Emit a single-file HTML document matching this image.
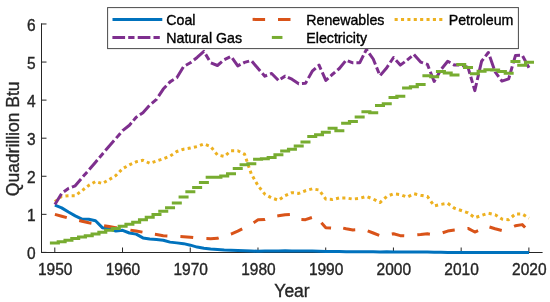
<!DOCTYPE html>
<html><head><meta charset="utf-8"><style>
html,body{margin:0;padding:0;background:#fff;width:550px;height:302px;overflow:hidden;}
svg{display:block;will-change:transform;}
text{font-family:"Liberation Sans",sans-serif;fill:#262626;stroke:#262626;stroke-width:0.35px;}
.lg text{fill:#000;stroke:#000;}
</style></head><body>
<svg width="550" height="302" viewBox="0 0 550 302">
<rect width="550" height="302" fill="#fff"/>
<g stroke="#262626" stroke-width="1" fill="none">
<path d="M41.5 23.5V252.5H542.6"/>
<path d="M41.0 252.40h5.5"/>
<path d="M41.0 214.33h5.5"/>
<path d="M41.0 176.26h5.5"/>
<path d="M41.0 138.19h5.5"/>
<path d="M41.0 100.12h5.5"/>
<path d="M41.0 62.05h5.5"/>
<path d="M41.0 23.98h5.5"/>
<path d="M54.80 253.0v-5.5"/>
<path d="M122.53 253.0v-5.5"/>
<path d="M190.25 253.0v-5.5"/>
<path d="M257.98 253.0v-5.5"/>
<path d="M325.71 253.0v-5.5"/>
<path d="M393.43 253.0v-5.5"/>
<path d="M461.16 253.0v-5.5"/>
<path d="M528.89 253.0v-5.5"/>
</g>
<g fill="none" stroke-width="3" stroke-linejoin="round">
<polyline points="54.90,205.19 61.67,207.86 68.45,212.05 75.22,215.85 81.99,219.09 88.76,219.28 95.54,220.80 102.31,227.65 109.08,228.80 115.85,231.08 122.63,230.32 129.40,232.98 136.17,234.13 142.95,237.93 149.72,239.08 156.49,239.46 163.26,240.22 170.04,242.12 176.81,242.88 183.58,243.64 190.35,245.17 197.13,247.07 203.90,248.21 210.67,248.97 217.44,249.54 224.22,250.00 230.99,250.19 237.76,250.42 244.54,250.65 251.31,250.92 258.08,251.22 264.85,251.03 271.63,250.92 278.40,250.88 285.17,250.76 291.94,250.92 298.72,250.99 305.49,251.07 312.26,251.11 319.04,251.30 325.81,251.45 332.58,251.49 339.35,251.49 346.13,251.64 352.90,251.71 359.67,251.75 366.44,251.75 373.22,251.79 379.99,251.94 386.76,251.87 393.53,251.98 400.31,251.94 407.08,251.94 413.85,251.94 420.63,251.98 427.40,252.10 434.17,252.17 440.94,252.13 447.72,252.40 454.49,252.40 461.26,252.40 468.03,252.40 474.81,252.40 481.58,252.40 488.35,252.40 495.13,252.40 501.90,252.40 508.67,252.40 515.44,252.40 522.22,252.40 528.99,252.40" stroke="#0072BD"/>
<polyline points="54.90,214.33 61.67,216.23 68.45,218.14 75.22,219.66 81.99,221.18 88.76,222.71 95.54,223.85 102.31,225.37 109.08,226.51 115.85,227.65 122.63,228.42 129.40,229.94 136.17,231.08 142.95,232.22 149.72,233.75 156.49,234.51 163.26,235.65 170.04,236.03 176.81,236.41 183.58,236.79 190.35,237.17 197.13,237.93 203.90,238.50 210.67,238.69 217.44,238.31 224.22,236.03 230.99,234.13 237.76,231.08 244.54,227.65 251.31,224.23 258.08,219.85 264.85,219.47 271.63,216.99 278.40,215.85 285.17,214.71 291.94,214.33 298.72,219.28 305.49,219.66 312.26,217.38 319.04,220.04 325.81,227.65 332.58,228.04 339.35,227.27 346.13,228.80 352.90,229.94 359.67,229.56 366.44,230.32 373.22,232.98 379.99,235.65 386.76,234.89 393.53,233.75 400.31,235.65 407.08,236.03 413.85,235.08 420.63,234.51 427.40,233.75 434.17,234.89 440.94,233.37 447.72,231.08 454.49,229.94 461.26,229.18 468.03,228.42 474.81,232.03 481.58,229.18 488.35,226.70 495.13,228.80 501.90,230.51 508.67,228.80 515.44,225.75 522.22,224.61 528.99,231.46" stroke="#D95319" stroke-dasharray="12.35 12.74 12.51 12.91 13.14 13.56 12.24 12.64 12.61 13.02 12.84 13.25 12.38 12.77 12.51 12.91 12.34 12.74 12.72 13.12 10.87 11.21 11.90 12.28 12.21 12.60 12.37 12.76 12.73 13.14 12.70 13.11 12.43 12.83 11.80 12.18 12.70 13.11 12.50 12.90 12.50 12.90" stroke-dashoffset="-0.00"/>
<polyline points="54.90,201.77 61.67,196.44 68.45,195.68 75.22,195.68 81.99,190.73 88.76,185.40 95.54,181.59 102.31,183.49 109.08,179.69 115.85,175.50 122.63,168.65 129.40,164.84 136.17,161.79 142.95,160.27 149.72,163.32 156.49,161.03 163.26,158.75 170.04,156.08 176.81,151.51 183.58,149.23 190.35,148.09 197.13,146.57 203.90,143.90 210.67,146.57 217.44,154.94 224.22,156.46 230.99,150.75 237.76,150.75 244.54,154.18 251.31,173.98 258.08,185.78 264.85,194.15 271.63,197.96 278.40,200.24 285.17,195.68 291.94,192.63 298.72,193.39 305.49,190.73 312.26,188.82 319.04,189.97 325.81,199.10 332.58,199.48 339.35,197.96 346.13,197.96 352.90,199.10 359.67,198.34 366.44,196.44 373.22,199.10 379.99,202.53 386.76,196.44 393.53,193.77 400.31,194.53 407.08,197.20 413.85,193.77 420.63,195.30 427.40,196.44 434.17,205.95 440.94,204.43 447.72,203.29 454.49,208.24 461.26,210.52 468.03,212.81 474.81,217.76 481.58,215.47 488.35,213.19 495.13,214.71 501.90,219.09 508.67,219.66 515.44,213.95 522.22,213.95 528.99,218.14" stroke="#EDB120" stroke-dasharray="3.02 3.20 3.02 3.20 3.02 3.20 3.02 3.20 3.02 3.20 3.02 3.20 3.02 3.20 3.02 3.20 3.02 3.20 3.02 3.20 3.02 3.20 3.02 3.20 3.02 3.20 3.02 3.20 3.02 3.20 3.02 3.20 3.02 3.20 3.02 3.20 3.02 3.20 3.09 3.27 3.09 3.27 3.09 3.27 3.09 3.27 3.09 3.27 3.09 3.27 3.09 3.27 3.09 3.27 3.09 3.27 3.09 3.27 3.09 3.27 3.09 3.27 3.09 3.27 3.09 3.27 3.09 3.27 3.09 3.27 3.09 3.27 3.09 3.27 3.09 3.27 3.09 3.27 3.09 3.27 3.09 3.27 3.09 3.27 3.09 3.27 3.09 3.27 3.09 3.27 3.09 3.27 3.09 3.27 3.09 3.27 3.08 3.26 3.08 3.26 3.08 3.26 3.08 3.26 3.08 3.26 3.08 3.26 3.08 3.26 3.08 3.26 3.08 3.26 3.16 3.35 3.16 3.35 3.16 3.35 3.16 3.35 3.16 3.35 3.16 3.35 3.16 3.35 3.16 3.35 3.16 3.35 3.16 3.35 3.16 3.35 3.16 3.35 3.16 3.35 3.16 3.35 3.16 3.35 3.16 3.35 3.16 3.35 3.16 3.35 3.16 3.35 3.16 3.35 3.16 3.35 3.16 3.35 3.16 3.35 3.16 3.35 3.10 3.28 3.10 3.28 3.10 3.28 3.10 3.28 3.10 3.28 3.10 3.28 3.10 3.28 3.10 3.28" stroke-dashoffset="-0.00"/>
<polyline points="54.90,204.43 61.67,193.39 68.45,188.44 75.22,185.78 81.99,177.78 88.76,170.17 95.54,162.17 102.31,154.18 109.08,146.18 115.85,138.57 122.63,130.58 129.40,125.25 136.17,117.25 142.95,112.68 149.72,105.07 156.49,99.36 163.26,89.08 170.04,81.85 176.81,77.66 183.58,66.62 190.35,62.81 197.13,57.48 203.90,51.39 210.67,62.81 217.44,65.48 224.22,59.77 230.99,56.34 237.76,65.86 244.54,62.43 251.31,60.53 258.08,68.52 264.85,76.14 271.63,73.47 278.40,80.32 285.17,76.14 291.94,79.18 298.72,83.75 305.49,83.37 312.26,71.19 319.04,65.10 325.81,80.32 332.58,74.23 339.35,68.52 346.13,60.15 352.90,62.81 359.67,62.81 366.44,49.49 373.22,59.00 379.99,75.76 386.76,67.76 393.53,57.48 400.31,65.10 407.08,60.15 413.85,54.44 420.63,62.05 427.40,64.33 434.17,81.47 440.94,69.66 447.72,61.29 454.49,65.10 461.26,65.10 468.03,67.38 474.81,90.60 481.58,61.29 488.35,52.53 495.13,71.95 501.90,81.09 508.67,78.80 515.44,55.58 522.22,55.20 528.99,67.76" stroke="#7E2F8E" stroke-dasharray="12.58 3.07 6.24 3.17 12.54 3.06 6.22 3.16 12.54 3.06 6.22 3.16 13.21 3.23 6.55 3.33 11.86 2.90 5.89 2.99 13.33 3.25 6.61 3.36 13.04 3.18 6.47 3.29 12.85 3.14 6.37 3.24 13.42 3.28 6.66 3.38 12.92 3.15 6.41 3.26 12.53 3.06 6.22 3.16 12.75 3.11 6.32 3.21 11.16 2.72 5.54 2.81 12.74 3.11 6.32 3.21 12.60 3.07 6.25 3.17 12.07 2.95 5.99 3.04 12.10 2.95 6.00 3.05 11.53 2.81 5.72 2.91 12.79 3.12 6.34 3.22 13.06 3.19 6.48 3.29 11.95 2.92 5.93 3.01 12.63 3.08 6.26 3.18 12.70 3.10 6.30 3.20 12.70 3.10 6.30 3.20 12.70 3.10 6.30 3.20 12.70 3.10 6.30 3.20 12.70 3.10 6.30 3.20 12.70 3.10 6.30 3.20 12.70 3.10 6.30 3.20 12.70 3.10 6.30 3.20 12.70 3.10 6.30 3.20 12.70 3.10 6.30 3.20" stroke-dashoffset="-0.00"/>
</g>
<path d="M49.90 243.03h10.00M56.67 241.63h10.00M63.45 240.18h10.00M70.22 238.62h10.00M76.99 237.06h10.00M83.76 235.76h10.00M90.54 234.09h10.00M97.31 232.26h10.00M104.08 230.32h10.00M110.85 228.38h10.00M117.63 226.28h10.00M124.40 224.34h10.00M131.17 222.13h10.00M137.95 219.81h10.00M144.72 217.34h10.00M151.49 214.60h10.00M158.26 211.21h10.00M165.04 207.86h10.00M171.81 202.91h10.00M178.58 196.93h10.00M185.35 191.87h10.00M192.13 187.45h10.00M198.90 182.39h10.00M205.67 177.17h10.00M212.44 177.33h10.00M219.22 176.03h10.00M225.99 173.67h10.00M232.76 168.61h10.00M239.54 164.84h10.00M246.31 163.70h10.00M253.08 159.28h10.00M259.85 158.63h10.00M266.63 157.57h10.00M273.40 154.86h10.00M280.17 151.10h10.00M286.94 149.27h10.00M293.72 146.03h10.00M300.49 142.00h10.00M307.26 136.40h10.00M314.04 134.73h10.00M320.81 132.37h10.00M327.58 128.29h10.00M334.35 130.84h10.00M341.13 123.19h10.00M347.90 121.40h10.00M354.67 116.99h10.00M361.44 111.77h10.00M368.22 112.65h10.00M374.99 105.60h10.00M381.76 103.66h10.00M388.53 97.49h10.00M395.31 96.31h10.00M402.08 88.05h10.00M408.85 86.68h10.00M415.63 84.59h10.00M422.40 75.83h10.00M429.17 76.86h10.00M435.94 71.57h10.00M442.72 73.05h10.00M449.49 75.11h10.00M456.26 64.60h10.00M463.03 67.57h10.00M469.81 73.85h10.00M476.58 71.22h10.00M483.35 69.63h10.00M490.13 70.01h10.00M496.90 71.49h10.00M503.67 73.13h10.00M510.44 61.59h10.00M517.22 65.36h10.00M523.99 62.24h10.00" stroke="#77AC30" stroke-width="3" fill="none"/>
<g font-size="15.5" text-anchor="end">
<text transform="translate(35.7 259.00) scale(1 1.03)">0</text>
<text transform="translate(35.7 220.93) scale(1 1.03)">1</text>
<text transform="translate(35.7 182.86) scale(1 1.03)">2</text>
<text transform="translate(35.7 144.79) scale(1 1.03)">3</text>
<text transform="translate(35.7 106.72) scale(1 1.03)">4</text>
<text transform="translate(35.7 68.65) scale(1 1.03)">5</text>
<text transform="translate(35.7 30.58) scale(1 1.03)">6</text>
</g>
<g font-size="15.5" text-anchor="middle">
<text transform="translate(55.20 275.0) scale(1 1.05)">1950</text>
<text transform="translate(122.93 275.0) scale(1 1.05)">1960</text>
<text transform="translate(190.65 275.0) scale(1 1.05)">1970</text>
<text transform="translate(258.38 275.0) scale(1 1.05)">1980</text>
<text transform="translate(326.11 275.0) scale(1 1.05)">1990</text>
<text transform="translate(393.83 275.0) scale(1 1.05)">2000</text>
<text transform="translate(461.56 275.0) scale(1 1.05)">2010</text>
<text transform="translate(529.29 275.0) scale(1 1.05)">2020</text>
</g>
<text x="292" y="297" font-size="17.5" text-anchor="middle">Year</text>
<text transform="translate(19.0 138.8) rotate(-90)" font-size="17.5" text-anchor="middle">Quadrillion Btu</text>
<rect x="107.6" y="7.6" width="410.8" height="41" fill="#fff" stroke="#4a4a4a" stroke-width="1"/>
<g fill="none" stroke-width="3">
<path d="M112.5 19.40h49.8" stroke="#0072BD"/>
<path d="M112.4 37.45h49.8" stroke="#7E2F8E" stroke-dasharray="12.7 3.1 6.3 3.2"/>
<path d="M252.6 19.40h49.8" stroke="#D95319" stroke-dasharray="12.5 12.9"/>
<path d="M271.85 37.45h10.60" stroke="#77AC30"/>
<path d="M394.6 19.40h49.8" stroke="#EDB120" stroke-dasharray="3.1 3.28"/>
</g>
<g font-size="14.2" class="lg">
<text x="166.3" y="24.6">Coal</text>
<text x="166.3" y="42.7">Natural Gas</text>
<text x="306.3" y="24.6">Renewables</text>
<text x="306.3" y="42.7">Electricity</text>
<text x="448.7" y="24.6">Petroleum</text>
</g>
</svg>
</body></html>
